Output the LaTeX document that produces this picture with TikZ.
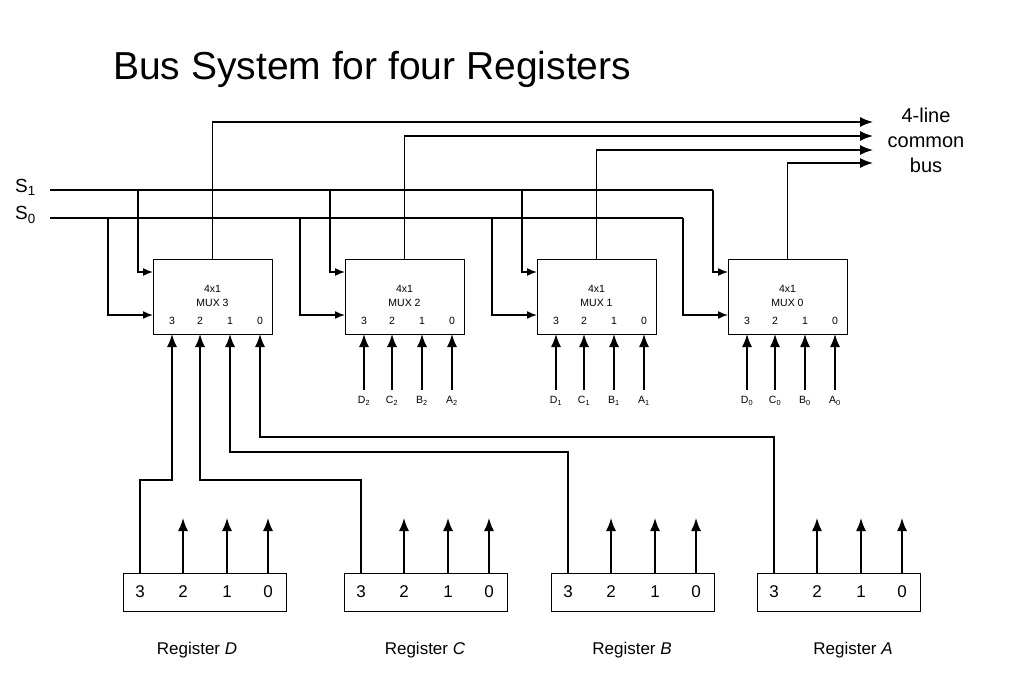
\documentclass[tikz,border=0pt]{standalone}
\usepackage{fontspec}
\setmainfont{Liberation Sans}
\usetikzlibrary{arrows.meta,calc}
\begin{document}
\begin{tikzpicture}[x=1pt,y=-1pt,
  wire/.style={line width=1.5pt},
  big/.style={wire,-{Latex[length=13pt,width=10pt]}},
  sml/.style={wire,-{Latex[length=10pt,width=8pt]}},
  mux/.style={draw,line width=0.9pt,minimum width=119pt,minimum height=75pt,inner sep=0pt},
  reg/.style={draw,line width=0.9pt,minimum width=163pt,minimum height=38pt,inner sep=0pt},
  tiny/.style={font=\fontsize{10.5}{11}\selectfont,inner sep=0pt},
  lbl/.style={font=\fontsize{17}{19}\selectfont,inner sep=0pt}]
\useasboundingbox (0,0) rectangle (1024,695);
\node[anchor=base west,inner sep=0pt,font=\fontsize{39}{42}\selectfont] (title) at (113,80) {Bus System for four Registers};
\node[lbl,anchor=west,font=\fontsize{19}{21}\selectfont] (s1) at (15,187) {S\textsubscript{1}};
\node[lbl,anchor=west,font=\fontsize{19}{21}\selectfont] (s0) at (15,215) {S\textsubscript{0}};
\coordinate (s1e) at (50,190); \coordinate (s0e) at (50,218);
\draw[wire] (s1e) -- (713,190);
\draw[wire] (s0e) -- (683,218);
\node[align=center,inner sep=0pt,font=\fontsize{20}{25}\selectfont] (bus) at (926,140) {4-line\\common\\bus};
% MUXes
\foreach \i/\x/\y in {3/153/122,2/345/136,1/537/150,0/728/163}{
  \node[mux] (m\i) at (\x+59.5,296.5) {};
  \node[tiny] (t\i) at (\x+59.5,289) {4x1};
  \node[tiny] (n\i) at (\x+59.5,303) {MUX \i};
  \foreach \p/\o in {3/19,2/47,1/77,0/107}{
    \node[tiny] (p\i\p) at (\x+\o,321) {\p};
    \coordinate (in\i\p) at (\x+\o,334);
  }
  \coordinate (o\i) at (873,\y);
  \draw[big] (m\i.north) |- (o\i);
  \draw[sml] (\x-15,190) |- (\x,272);
  \draw[sml] (\x-45,218) |- (\x,315);
}
\foreach \i in {2,1,0}{
  \foreach \p/\r in {3/D,2/C,1/B,0/A}{
    \node[tiny,anchor=north] (l\i\p) at ($(in\i\p)+(0,62)$) {\r\textsubscript{\i}};
    \draw[big] ($(in\i\p)+(0,56)$) -- (in\i\p);
  }
}
% registers
\foreach \r/\x/\lx in {D/123/197,C/344/425,B/551/632,A/757/853}{
  \node[reg] (r\r) at (\x+81.5,592) {};
  \foreach \p/\o in {3/17,2/60,1/104,0/145}{
    \node[lbl] (r\r\p) at (\x+\o,592) {\p};
    \coordinate (ro\r\p) at (\x+\o,573);
  }
  \foreach \p in {2,1,0}{\draw[big] (ro\r\p) -- ++(0,-55);}
  \node[lbl] (rl\r) at (\lx,650) {Register \textit{\r}};
}
\draw[big] (roD3) |- ($(in33)+(0,146)$) -- (in33);
\draw[big] (roC3) |- ($(in32)+(0,146)$) -- (in32);
\draw[big] (roB3) |- ($(in31)+(0,118)$) -- (in31);
\draw[big] (roA3) |- ($(in30)+(0,103)$) -- (in30);
\end{tikzpicture}
\end{document}
